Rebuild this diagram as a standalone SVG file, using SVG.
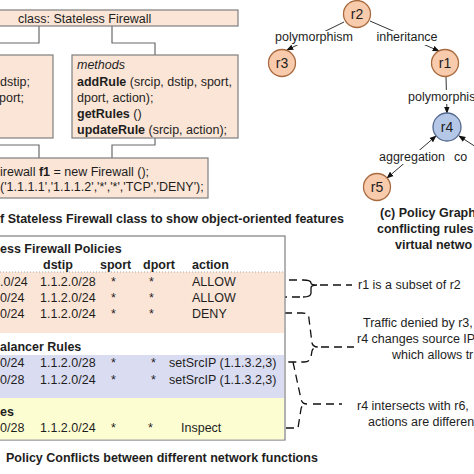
<svg xmlns="http://www.w3.org/2000/svg" width="474" height="474" viewBox="0 0 474 474">
<defs>
<marker id="arr" viewBox="0 0 10 10" refX="9" refY="5" markerWidth="7" markerHeight="7" orient="auto-start-reverse" markerUnits="userSpaceOnUse"><path d="M0,1 L10,5 L0,9 z" fill="#111"/></marker>
<style>
text{font-family:"Liberation Sans",Arial,sans-serif;font-size:12.5px;fill:#1e1e1e}
.b{font-weight:bold}
.i{font-style:italic}
.bx{fill:#FBE5D6;stroke:#7f7f7f;stroke-width:1.2}
.tree{fill:none;stroke:#6a6a6a;stroke-width:1.2}
.dash{fill:none;stroke:#111;stroke-width:1.3;stroke-dasharray:8 5}
.brace{fill:none;stroke:#111;stroke-width:1.3}
.edge{stroke:#333;stroke-width:1;fill:none}
.np{fill:#F8CBAD;stroke:#A86A3E;stroke-width:1.3}
.nb{fill:#B4C7E7;stroke:#55698F;stroke-width:1.3}
.nt{font-size:14px;text-anchor:middle}
.m{text-anchor:middle}
.bg{fill:#fff}
</style>
</defs>
<rect width="474" height="474" fill="#fff"/>

<g id="connectors">
<polyline class="tree" points="39,26 39,43 -2,43"/>
<polyline class="tree" points="112,26 112,43 155,43 155,55"/>
<polyline class="tree" points="-2,145 39,145 39,158"/>
<polyline class="tree" points="155,138 155,145 112,145 112,158"/>
<line class="edge" x1="344" y1="22" x2="287" y2="50" marker-end="url(#arr)"/>
<line class="edge" x1="370" y1="21" x2="439" y2="51" marker-end="url(#arr)"/>
<line class="edge" x1="446" y1="77" x2="447" y2="113" marker-end="url(#arr)"/>
<line class="edge" x1="436" y1="136" x2="387" y2="178" marker-start="url(#arr)" marker-end="url(#arr)"/>
<line class="edge" x1="476" y1="147" x2="459" y2="136" marker-end="url(#arr)"/>
<path class="dash" d="M237,280 H303"/>
<path class="dash" d="M240,297 H303"/>
<path class="brace" d="M303,280 Q311,280 311,283 Q311,285 317,285 Q311,285 311,288 L311,293 Q311,297 303,297"/>
<path class="dash" d="M320,285 H352"/>
<path class="dash" d="M232,313 H302 Q309,313 309,319 L312,343 Q313,347 318,347 Q313,347 312,351 L311,357 Q310,362 304,362 H266"/>
<path class="dash" d="M321,347 H354"/>
<path class="dash" d="M293,362 L301,399 Q302,404 307,404 Q302,404 301,409 L298,428 H272"/>
<path class="dash" d="M313,404 H342"/>
</g>

<g id="class-box">
<rect class="bx" x="-2" y="10" width="240" height="16"/>
<text x="18" y="22.5" font-size="12">class: Stateless Firewall</text>
</g>
<g id="attributes-box">
<rect class="bx" x="-2" y="55" width="55" height="83"/>
<text x="0" y="86">dstip;</text>
<text x="-1" y="102">port;</text>
</g>
<g id="methods-box">
<rect class="bx" x="72" y="55" width="166" height="83"/>
<text x="77" y="69" class="i">methods</text>
<text x="77" y="86"><tspan class="b">addRule</tspan> (srcip, dstip, sport,</text>
<text x="77" y="102">dport, action);</text>
<text x="77" y="118"><tspan class="b">getRules</tspan> ()</text>
<text x="77" y="134"><tspan class="b">updateRule</tspan> (srcip, action);</text>
</g>
<g id="instance-box">
<rect class="bx" x="-2" y="158" width="210" height="40"/>
<text x="0" y="176">irewall <tspan class="b">f1</tspan> = new Firewall ();</text>
<text x="0" y="191">('1.1.1.1','1.1.1.2','*','*','TCP','DENY');</text>
</g>
<text x="0" y="223" class="b" font-size="12">f Stateless Firewall class to show object-oriented features</text>

<g id="policy-table">
<rect x="-2" y="236" width="287" height="204" fill="#fff" stroke="#7f7f7f" stroke-width="1.2"/>
<rect x="0" y="272" width="284" height="61" fill="#FBE5D6"/>
<line x1="0" y1="272" x2="284" y2="272" stroke="#aaa" stroke-width="1" stroke-dasharray="1 2"/>
<rect x="0" y="355" width="284" height="43" fill="#DADCF1"/>
<rect x="0" y="398" width="284" height="41.4" fill="#FDFDD2"/>
<g id="firewall-policies">
<text x="0" y="253" class="b">ess Firewall Policies</text>
<text x="43" y="269" class="b">dstip</text>
<text x="100" y="269" class="b">sport</text>
<text x="143" y="269" class="b">dport</text>
<text x="192" y="269" class="b">action</text>
<text x="0" y="286">.0/24</text><text x="40" y="286">1.1.2.0/28</text><text x="111" y="286">*</text><text x="149" y="286">*</text><text x="192" y="286">ALLOW</text>
<text x="0" y="302">0/24</text><text x="40" y="302">1.1.2.0/24</text><text x="111" y="302">*</text><text x="149" y="302">*</text><text x="192" y="302">ALLOW</text>
<text x="0" y="318">0/24</text><text x="40" y="318">1.1.2.0/24</text><text x="111" y="318">*</text><text x="149" y="318">*</text><text x="192" y="318">DENY</text>
</g>
<g id="load-balancer-rules">
<text x="0" y="351" class="b">alancer Rules</text>
<text x="0" y="367">0/24</text><text x="40" y="367">1.1.2.0/28</text><text x="111" y="367">*</text><text x="151" y="367">*</text><text x="169" y="367">setSrcIP (1.1.3.2,3)</text>
<text x="0" y="384">0/28</text><text x="40" y="384">1.1.2.0/24</text><text x="111" y="384">*</text><text x="151" y="384">*</text><text x="169" y="384">setSrcIP (1.1.3.2,3)</text>
</g>
<g id="ids-rules">
<text x="0" y="416" class="b">es</text>
<text x="0" y="432">0/28</text><text x="40" y="432">1.1.2.0/24</text><text x="111" y="432">*</text><text x="148" y="432">*</text><text x="181" y="432">Inspect</text>
</g>
</g>
<text x="6" y="462" class="b" font-size="12">Policy Conflicts between different network functions</text>

<g id="annotations">
<text x="358" y="289">r1 is a subset of r2</text>
<text x="363" y="327">Traffic denied by r3,</text>
<text x="357" y="343">r4 changes source IP</text>
<text x="392" y="359">which allows tr</text>
<text x="357" y="410">r4 intersects with r6,</text>
<text x="368" y="426">actions are differen</text>
</g>

<g id="edge-labels">
<rect class="bg" x="274" y="31" width="80" height="14"/>
<text x="314" y="41" class="m">polymorphism</text>
<rect class="bg" x="373" y="31" width="68" height="14"/>
<text x="407" y="41" class="m">inheritance</text>
<rect class="bg" x="406" y="90" width="70" height="14"/>
<text x="408" y="101">polymorphis</text>
<rect class="bg" x="379" y="150" width="67" height="14"/>
<text x="412" y="161" class="m">aggregation</text>
<rect class="bg" x="452" y="150" width="24" height="14"/>
<text x="454" y="161">co</text>
</g>

<g id="node-r2"><circle class="np" cx="357" cy="14" r="13.5"/><text class="nt" x="357" y="19">r2</text></g>
<g id="node-r3"><circle class="np" cx="282" cy="63" r="13.5"/><text class="nt" x="282" y="68">r3</text></g>
<g id="node-r1"><circle class="np" cx="445" cy="63" r="13.5"/><text class="nt" x="445" y="68">r1</text></g>
<g id="node-r4"><circle class="nb" cx="447" cy="127" r="14"/><text class="nt" x="447" y="132">r4</text></g>
<g id="node-r5"><circle class="np" cx="377" cy="187" r="13.5"/><text class="nt" x="377" y="192">r5</text></g>

<g id="graph-caption">
<text x="380" y="217" class="b">(c)  Policy Graph</text>
<text x="377" y="233" class="b">conflicting rules f</text>
<text x="395" y="249" class="b">virtual netwo</text>
</g>
</svg>
